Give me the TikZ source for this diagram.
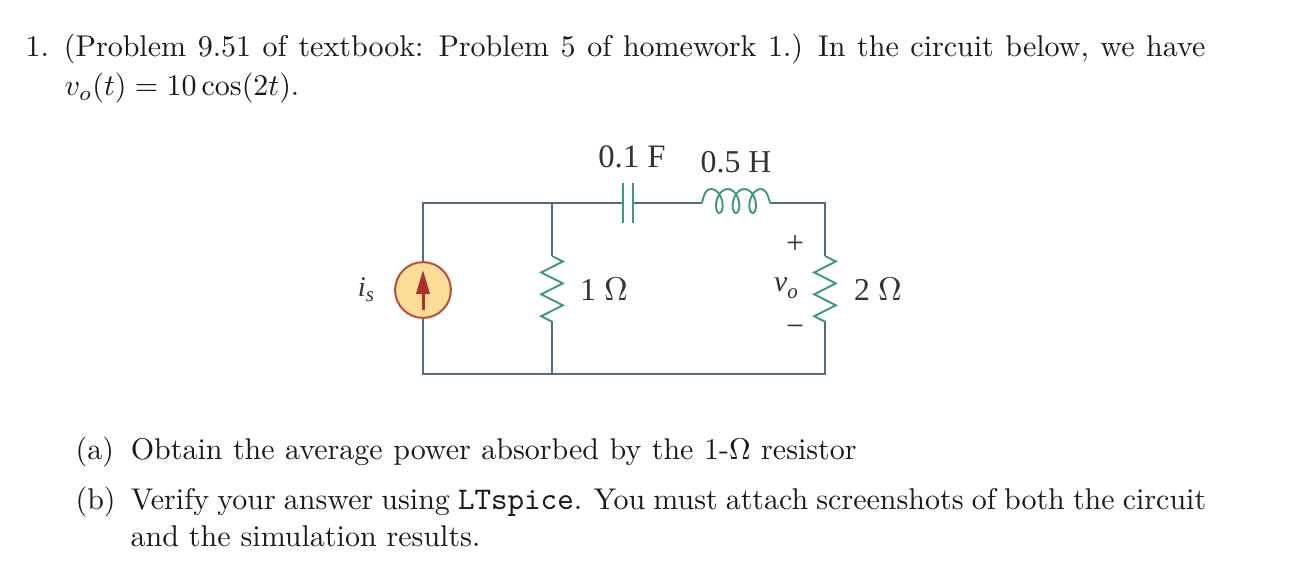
\documentclass[tikz,border=0pt]{standalone}
\usepackage{fontspec}
\newfontfamily\cktfont{Liberation Serif}
\usetikzlibrary{arrows.meta, decorations.pathmorphing}
\definecolor{wirecol}{HTML}{566B7C}
\definecolor{partcol}{HTML}{3F9A78}
\definecolor{srcfill}{HTML}{FBDD98}
\definecolor{srcline}{HTML}{B8553F}
\definecolor{srcarrow}{HTML}{A8322A}
\definecolor{labelcol}{HTML}{333333}
\newcommand{\partlabel}[1]{\makebox[18.4pt][l]{#1}}
\begin{document}
\begin{tikzpicture}[x = 0.3333pt, y = -0.3333pt,
    txt/.style = {anchor = base west, inner sep = 0pt, text = black!90},
    val/.style = {inner sep = 0pt, text = labelcol, font = \cktfont\fontsize{10.6}{12}\selectfont},
    wire/.style = {draw = wirecol, line width = 0.7pt},
    resistor/.style = {draw = partcol, line width = 0.65pt, decorate,
      decoration = {zigzag, segment length = 7.3pt, amplitude = 3.6pt}},
    inductor/.style = {draw = partcol, line width = 0.65pt},
    capplate/.style = {draw = partcol, line width = 0.65pt}]
 \useasboundingbox (0,0) rectangle (1290,575);

 % problem text
 \node[txt] (line1) at (25,57) {\spaceskip=3.87pt 1.\enspace(Problem 9.51 of textbook: Problem 5 of homework 1.) In the circuit below, we have};
 \node[txt] (line2) at (64,96) {$v_o(t) = 10\cos(2t)$.};
 \node[txt] (parta) at (75,459) {\spaceskip=3.5pt \partlabel{(a)}Obtain the average power absorbed by the 1-$\Omega$ resistor};
 \node[txt] (partb) at (75,509) {\spaceskip=2.7pt \partlabel{(b)}Verify your answer using {\ttfamily\fontsize{10.5}{12}\selectfont LTspice}. You must attach screenshots of both the circuit};
 \node[txt] (partc) at (130,546) {and the simulation results.};

 % corners and junctions
 \coordinate (tl) at (423,203);
 \coordinate (tm) at (552,203);
 \coordinate (tr) at (825,203);
 \coordinate (bl) at (423,374);
 \coordinate (bm) at (552,374);
 \coordinate (br) at (825,374);
 \coordinate (capl) at (623,203);
 \coordinate (capr) at (633,203);
 \coordinate (indl) at (702,203);
 \coordinate (indr) at (770,203);
 \coordinate (coila) at (711,189);
 \coordinate (coilb) at (761,189);
 \coordinate (ra) at (552,256);
 \coordinate (rb) at (552,322);
 \coordinate (rc) at (825,256);
 \coordinate (rd) at (825,322);

 % source
 \node[circle, draw = srcline, fill = srcfill, line width = 0.7pt, minimum size = 18.6pt, inner sep = 0pt] (src) at (423,290) {};
 \coordinate (srcb) at (423,310);
 \coordinate (srct) at (423,270);
 \draw[srcarrow, line width = 1pt, -{Triangle[length = 8pt, width = 4.4pt]}] (srcb) -- (srct);

 % wires
 \draw[wire] (src) -- (tl) -- (capl);
 \draw[wire] (capr) -- (indl);
 \draw[wire] (indr) -- (tr) -- (rc);
 \draw[wire] (rd) -- (br) -- (bl) -- (src);
 \draw[wire] (tm) -- (ra);
 \draw[wire] (rb) -- (bm);

 % parts
 \draw[resistor] (ra) -- (rb);
 \draw[resistor] (rc) -- (rd);
 \draw[inductor] (indl) .. controls (704,194) and (706,189) .. (coila);
 \draw[inductor] plot[smooth, domain = 0:3, samples = 61, variable = \u]
   ({711 + 16.67*\u + 7*sin(360*\u)}, {201 - 12*cos(360*\u)});
 \draw[inductor] (coilb) .. controls (765,189) and (768,194) .. (indr);
 \draw[capplate] ([yshift = -6.8pt]capl) -- ([yshift = 6.8pt]capl);
 \draw[capplate] ([yshift = -6.8pt]capr) -- ([yshift = 6.8pt]capr);

 % labels
 \node[val] (capval) at (632,157) {\fontsize{10.9}{12}\selectfont 0.1 F};
 \node[val] (indval) at (736,162) {0.5 H};
 \node[val] (rval) at (604,289) {1 $\Omega$};
 \node[val] (rvalb) at (878,289) {2 $\Omega$};
 \node[val] (isrc) at (366,290) {\fontsize{9.5}{12}\selectfont\itshape i\raisebox{-0.4ex}{\scriptsize s}};
 \node[val] (vout) at (786,288) {\fontsize{10}{12}\selectfont\itshape v\raisebox{-0.5ex}{\scriptsize o}};
 \node[val] (vplus) at (795,245) {+};
 \node[val] (vminus) at (795,331) {\textminus};
\end{tikzpicture}
\end{document}
